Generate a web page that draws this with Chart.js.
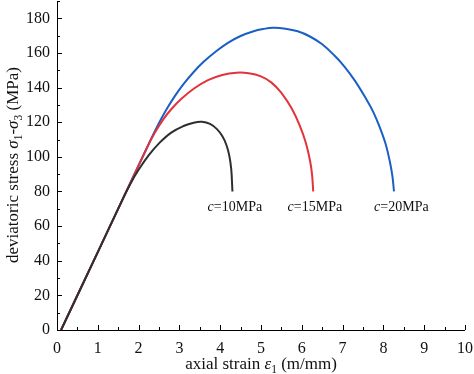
<!DOCTYPE html>
<html>
<head>
<meta charset="utf-8">
<script src="https://cdn.jsdelivr.net/npm/chart.js@4.4.0/dist/chart.umd.min.js"></script>
<style>
  html, body { margin: 0; padding: 0; background: #fff; }
  canvas { display: block; }
</style>
</head>
<body>
<canvas id="chart" width="474" height="374"></canvas>
<script>
// values
const strain10 = [0.1, 1.0, 1.6, 1.8, 2.0, 2.25, 2.5, 2.8, 3.1, 3.35, 3.55, 3.75, 3.92, 4.05, 4.15, 4.22, 4.27, 4.3];
const stress10 = [0, 45, 75, 84.5, 92.5, 101, 107.8, 114, 117.8, 119.7, 120.2, 119, 116, 112, 107, 101, 93, 80];

const strain15 = [0.1, 1.0, 2.2, 2.4, 2.6, 2.8, 3.05, 3.35, 3.7, 4.05, 4.4, 4.7, 5.0, 5.25, 5.5, 5.75, 5.95, 6.1, 6.2, 6.25, 6.28];
const stress15 = [0, 45, 105, 114, 121.5, 127.5, 133.5, 139.3, 144.3, 147.3, 148.6, 148.3, 146.5, 143, 137, 128, 118, 108, 98, 90, 80];

const strain20 = [0.1, 1.0, 2.3, 2.5, 2.7, 2.9, 3.1, 3.35, 3.6, 3.9, 4.2, 4.5, 4.8, 5.05, 5.3, 5.6, 5.9, 6.2, 6.5, 6.8, 7.05, 7.3, 7.55, 7.75, 7.92, 8.06, 8.16, 8.22, 8.26];
const stress20 = [0, 45, 110, 119.5, 128, 135.5, 142, 149, 155, 161, 166, 169.8, 172.4, 173.8, 174.5, 174, 172.5, 169.5, 165, 158.5, 152, 144, 134.5, 126, 116.5, 107, 97, 89, 80];

const cohesionValues = ['10', '15', '20'];
const labelStrain = [4.36, 6.32, 8.44];
const labelStress = 69;

const xTicks = [0, 1, 2, 3, 4, 5, 6, 7, 8, 9, 10];
const yTicks = [0, 20, 40, 60, 80, 100, 120, 140, 160, 180];

const colors = ['#2e2e2e', '#e2333c', '#1a5fc6'];
const FONT = "'Liberation Serif', 'Times New Roman', serif";

function toPoints(xs, ys) {
  return xs.map((x, i) => ({ x, y: ys[i] }));
}

// draws a run of text pieces, each {t, italic, sub}
function drawPieces(ctx, pieces, size, startX, baseY) {
  let x = startX;
  pieces.forEach((p) => {
    const s = p.sub ? size * 0.68 : size;
    ctx.font = `${p.italic ? 'italic ' : ''}${s}px ${FONT}`;
    ctx.fillText(p.t, x, baseY + (p.sub ? size * 0.25 : 0));
    x += ctx.measureText(p.t).width;
  });
}

function piecesWidth(ctx, pieces, size) {
  let w = 0;
  pieces.forEach((p) => {
    const s = p.sub ? size * 0.68 : size;
    ctx.font = `${p.italic ? 'italic ' : ''}${s}px ${FONT}`;
    w += ctx.measureText(p.t).width;
  });
  return w;
}

const axesPlugin = {
  id: 'originAxes',
  afterDraw(chart) {
    const { ctx, chartArea, scales } = chart;
    const { left, right, top, bottom } = chartArea;
    ctx.save();
    ctx.strokeStyle = '#000';
    ctx.lineWidth = 1;
    ctx.beginPath();
    ctx.moveTo(left + 0.5, top);
    ctx.lineTo(left + 0.5, bottom + 0.5);
    ctx.lineTo(right, bottom + 0.5);
    ctx.stroke();

    // inward ticks, major and minor
    ctx.beginPath();
    for (let v = 0; v <= 10.001; v += 0.5) {
      const px = Math.round(scales.x.getPixelForValue(v)) + 0.5;
      const len = Math.abs(v - Math.round(v)) < 1e-6 ? 5 : 3;
      ctx.moveTo(px, bottom);
      ctx.lineTo(px, bottom - len);
    }
    for (let v = 0; v <= 190.001; v += 10) {
      const py = Math.round(scales.y.getPixelForValue(v)) + 0.5;
      const len = v % 20 === 0 ? 5 : 3;
      ctx.moveTo(left, py);
      ctx.lineTo(left + len, py);
    }
    ctx.stroke();

    ctx.fillStyle = '#111';
    ctx.textBaseline = 'alphabetic';
    ctx.textAlign = 'left';

    // x axis title
    const xTitle = [
      { t: 'axial strain ' },
      { t: 'ε', italic: true },
      { t: '1', sub: true },
      { t: ' (m/mm)' },
    ];
    const titleSize = 17;
    const xw = piecesWidth(ctx, xTitle, titleSize);
    drawPieces(ctx, xTitle, titleSize, (left + right) / 2 - xw / 2, 369);

    // y axis title
    const yTitle = [
      { t: 'deviatoric stress ' },
      { t: 'σ', italic: true },
      { t: '1', sub: true },
      { t: '-' },
      { t: 'σ', italic: true },
      { t: '3', sub: true },
      { t: ' (MPa)' },
    ];
    const yw = piecesWidth(ctx, yTitle, titleSize);
    ctx.save();
    ctx.translate(18, 165);
    ctx.rotate(-Math.PI / 2);
    drawPieces(ctx, yTitle, titleSize, -yw / 2, 0);
    ctx.restore();

    // curve labels
    cohesionValues.forEach((c, i) => {
      const pieces = [{ t: 'c', italic: true }, { t: `=${c}MPa` }];
      const w = piecesWidth(ctx, pieces, 14);
      const cx = scales.x.getPixelForValue(labelStrain[i]);
      const cy = scales.y.getPixelForValue(labelStress);
      drawPieces(ctx, pieces, 14, cx - w / 2, cy);
    });
    ctx.restore();
  },
};

const tickFont = { family: FONT, size: 16 };

new Chart(document.getElementById('chart').getContext('2d'), {
  type: 'line',
  data: {
    datasets: [
      { label: 'c=10MPa', data: toPoints(strain10, stress10), borderColor: colors[0] },
      { label: 'c=15MPa', data: toPoints(strain15, stress15), borderColor: colors[1] },
      { label: 'c=20MPa', data: toPoints(strain20, stress20), borderColor: colors[2] },
    ],
  },
  options: {
    responsive: false,
    animation: false,
    layout: { padding: { top: 1, right: 9, left: 0, bottom: 0 } },
    elements: {
      point: { radius: 0 },
      line: { borderWidth: 2, fill: false, tension: 0.4 },
    },
    plugins: { legend: { display: false }, tooltip: { enabled: false } },
    scales: {
      x: {
        type: 'linear',
        min: xTicks[0],
        max: xTicks[xTicks.length - 1],
        afterFit: (scale) => {
          scale.height = 44;
          scale.paddingLeft = 0;
          scale.paddingRight = 0;
        },
        afterBuildTicks: (scale) => { scale.ticks = xTicks.map((v) => ({ value: v })); },
        grid: { display: false, drawTicks: false },
        border: { display: false },
        ticks: { font: tickFont, color: '#111', padding: 9, maxRotation: 0, autoSkip: false },
      },
      y: {
        type: 'linear',
        min: 0,
        max: 190,
        afterFit: (scale) => {
          scale.width = 57;
          scale.paddingTop = 0;
          scale.paddingBottom = 0;
        },
        afterBuildTicks: (scale) => { scale.ticks = yTicks.map((v) => ({ value: v })); },
        grid: { display: false, drawTicks: false },
        border: { display: false },
        ticks: { font: tickFont, color: '#111', padding: 7 },
      },
    },
  },
  plugins: [axesPlugin],
});
</script>
</body>
</html>
